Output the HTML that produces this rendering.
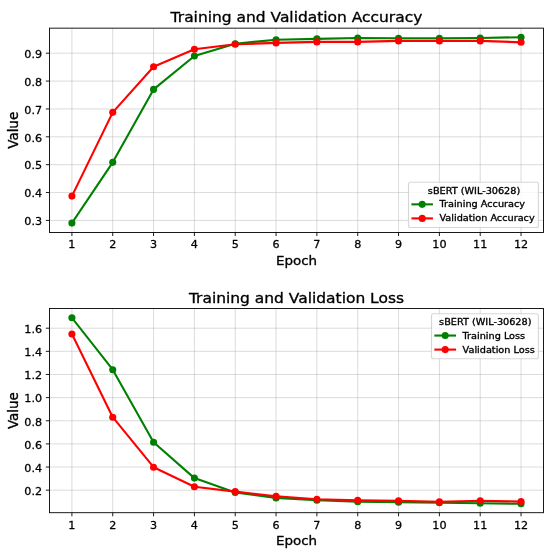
<!DOCTYPE html>
<html lang="en"><head><meta charset="utf-8"><title>Training and Validation curves</title>
<style>html,body{margin:0;padding:0;background:#fff}svg{display:block}</style></head>
<body>
<svg width="550" height="554" viewBox="0 0 550 554" font-family='"DejaVu Sans", "Liberation Sans", sans-serif' fill="#000">
<style>text{stroke:#000;stroke-width:0.35px;stroke-linejoin:round}</style>
<rect width="550" height="554" fill="#fff"/>
<g stroke="#b0b0b0" stroke-opacity="0.5" stroke-width="0.9" fill="none">
<path d="M71.91 28.15 V232.45"/>
<path d="M112.74 28.15 V232.45"/>
<path d="M153.57 28.15 V232.45"/>
<path d="M194.40 28.15 V232.45"/>
<path d="M235.23 28.15 V232.45"/>
<path d="M276.06 28.15 V232.45"/>
<path d="M316.89 28.15 V232.45"/>
<path d="M357.72 28.15 V232.45"/>
<path d="M398.55 28.15 V232.45"/>
<path d="M439.38 28.15 V232.45"/>
<path d="M480.21 28.15 V232.45"/>
<path d="M521.04 28.15 V232.45"/>
<path d="M49.45 220.42 H543.5"/>
<path d="M49.45 192.55 H543.5"/>
<path d="M49.45 164.68 H543.5"/>
<path d="M49.45 136.81 H543.5"/>
<path d="M49.45 108.94 H543.5"/>
<path d="M49.45 81.07 H543.5"/>
<path d="M49.45 53.20 H543.5"/>
</g>
<polyline points="71.91,223.10 112.74,162.36 153.57,89.40 194.40,56.00 235.23,43.70 276.06,39.70 316.89,38.90 357.72,38.00 398.55,38.20 439.38,38.20 480.21,38.00 521.04,37.20" fill="none" stroke="#008000" stroke-width="2.1" stroke-linejoin="round" stroke-linecap="square"/>
<g fill="#008000">
<circle cx="71.91" cy="223.10" r="3.55"/>
<circle cx="112.74" cy="162.36" r="3.55"/>
<circle cx="153.57" cy="89.40" r="3.55"/>
<circle cx="194.40" cy="56.00" r="3.55"/>
<circle cx="235.23" cy="43.70" r="3.55"/>
<circle cx="276.06" cy="39.70" r="3.55"/>
<circle cx="316.89" cy="38.90" r="3.55"/>
<circle cx="357.72" cy="38.00" r="3.55"/>
<circle cx="398.55" cy="38.20" r="3.55"/>
<circle cx="439.38" cy="38.20" r="3.55"/>
<circle cx="480.21" cy="38.00" r="3.55"/>
<circle cx="521.04" cy="37.20" r="3.55"/>
</g>
<polyline points="71.91,196.10 112.74,112.36 153.57,66.70 194.40,49.30 235.23,44.30 276.06,42.90 316.89,41.90 357.72,41.90 398.55,40.90 439.38,40.90 480.21,40.90 521.04,42.30" fill="none" stroke="#ff0000" stroke-width="2.1" stroke-linejoin="round" stroke-linecap="square"/>
<g fill="#ff0000">
<circle cx="71.91" cy="196.10" r="3.55"/>
<circle cx="112.74" cy="112.36" r="3.55"/>
<circle cx="153.57" cy="66.70" r="3.55"/>
<circle cx="194.40" cy="49.30" r="3.55"/>
<circle cx="235.23" cy="44.30" r="3.55"/>
<circle cx="276.06" cy="42.90" r="3.55"/>
<circle cx="316.89" cy="41.90" r="3.55"/>
<circle cx="357.72" cy="41.90" r="3.55"/>
<circle cx="398.55" cy="40.90" r="3.55"/>
<circle cx="439.38" cy="40.90" r="3.55"/>
<circle cx="480.21" cy="40.90" r="3.55"/>
<circle cx="521.04" cy="42.30" r="3.55"/>
</g>
<g stroke="#000" stroke-width="0.9" fill="none">
<path d="M71.91 232.45 v3.6"/>
<path d="M112.74 232.45 v3.6"/>
<path d="M153.57 232.45 v3.6"/>
<path d="M194.40 232.45 v3.6"/>
<path d="M235.23 232.45 v3.6"/>
<path d="M276.06 232.45 v3.6"/>
<path d="M316.89 232.45 v3.6"/>
<path d="M357.72 232.45 v3.6"/>
<path d="M398.55 232.45 v3.6"/>
<path d="M439.38 232.45 v3.6"/>
<path d="M480.21 232.45 v3.6"/>
<path d="M521.04 232.45 v3.6"/>
<path d="M49.45 220.42 h-3.6"/>
<path d="M49.45 192.55 h-3.6"/>
<path d="M49.45 164.68 h-3.6"/>
<path d="M49.45 136.81 h-3.6"/>
<path d="M49.45 108.94 h-3.6"/>
<path d="M49.45 81.07 h-3.6"/>
<path d="M49.45 53.20 h-3.6"/>
<rect x="49.45" y="28.15" width="494.05" height="204.30" stroke-linejoin="miter"/>
</g>
<text transform="translate(71.91 248.45) scale(1 0.98)" font-size="11.2" text-anchor="middle" style="stroke-width:0.28px">1</text>
<text transform="translate(112.74 248.45) scale(1 0.98)" font-size="11.2" text-anchor="middle" style="stroke-width:0.28px">2</text>
<text transform="translate(153.57 248.45) scale(1 0.98)" font-size="11.2" text-anchor="middle" style="stroke-width:0.28px">3</text>
<text transform="translate(194.40 248.45) scale(1 0.98)" font-size="11.2" text-anchor="middle" style="stroke-width:0.28px">4</text>
<text transform="translate(235.23 248.45) scale(1 0.98)" font-size="11.2" text-anchor="middle" style="stroke-width:0.28px">5</text>
<text transform="translate(276.06 248.45) scale(1 0.98)" font-size="11.2" text-anchor="middle" style="stroke-width:0.28px">6</text>
<text transform="translate(316.89 248.45) scale(1 0.98)" font-size="11.2" text-anchor="middle" style="stroke-width:0.28px">7</text>
<text transform="translate(357.72 248.45) scale(1 0.98)" font-size="11.2" text-anchor="middle" style="stroke-width:0.28px">8</text>
<text transform="translate(398.55 248.45) scale(1 0.98)" font-size="11.2" text-anchor="middle" style="stroke-width:0.28px">9</text>
<text transform="translate(439.38 248.45) scale(1 0.98)" font-size="11.2" text-anchor="middle" style="stroke-width:0.28px">10</text>
<text transform="translate(480.21 248.45) scale(1 0.98)" font-size="11.2" text-anchor="middle" style="stroke-width:0.28px">11</text>
<text transform="translate(521.04 248.45) scale(1 0.98)" font-size="11.2" text-anchor="middle" style="stroke-width:0.28px">12</text>
<text transform="translate(42.15 225.22) scale(1 0.98)" font-size="11.2" text-anchor="end" style="stroke-width:0.28px">0.3</text>
<text transform="translate(42.15 197.35) scale(1 0.98)" font-size="11.2" text-anchor="end" style="stroke-width:0.28px">0.4</text>
<text transform="translate(42.15 169.48) scale(1 0.98)" font-size="11.2" text-anchor="end" style="stroke-width:0.28px">0.5</text>
<text transform="translate(42.15 141.61) scale(1 0.98)" font-size="11.2" text-anchor="end" style="stroke-width:0.28px">0.6</text>
<text transform="translate(42.15 113.74) scale(1 0.98)" font-size="11.2" text-anchor="end" style="stroke-width:0.28px">0.7</text>
<text transform="translate(42.15 85.87) scale(1 0.98)" font-size="11.2" text-anchor="end" style="stroke-width:0.28px">0.8</text>
<text transform="translate(42.15 58.00) scale(1 0.98)" font-size="11.2" text-anchor="end" style="stroke-width:0.28px">0.9</text>
<text transform="translate(296.48 264.55) scale(1 0.92)" font-size="13.45" text-anchor="middle">Epoch</text>
<text transform="translate(17.50 130.30) rotate(-90)" font-size="13.45" text-anchor="middle">Value</text>
<text transform="translate(296.48 22.25) scale(1 0.95)" font-size="15.48" text-anchor="middle">Training and Validation Accuracy</text>
<rect x="408.5" y="182.2" width="129.90" height="45.30" rx="2" ry="2" fill="#fff" fill-opacity="0.8" stroke="#ccc" stroke-opacity="0.8" stroke-width="1.1"/>
<text transform="translate(474.05 193.50) scale(1 0.87)" font-size="9.7" text-anchor="middle">sBERT (WIL-30628)</text>
<path d="M412.5 204.35 H431.9" stroke="#008000" stroke-width="2.1" stroke-linecap="square" fill="none"/>
<circle cx="422.20" cy="204.35" r="3.55" fill="#008000"/>
<text transform="translate(439.50 207.35) scale(1 0.87)" font-size="9.7">Training Accuracy</text>
<path d="M412.5 218.40 H431.9" stroke="#ff0000" stroke-width="2.1" stroke-linecap="square" fill="none"/>
<circle cx="422.20" cy="218.40" r="3.55" fill="#ff0000"/>
<text transform="translate(439.50 221.40) scale(1 0.87)" font-size="9.7">Validation Accuracy</text>
<g stroke="#b0b0b0" stroke-opacity="0.5" stroke-width="0.9" fill="none">
<path d="M71.91 308.5 V512.7"/>
<path d="M112.74 308.5 V512.7"/>
<path d="M153.57 308.5 V512.7"/>
<path d="M194.40 308.5 V512.7"/>
<path d="M235.23 308.5 V512.7"/>
<path d="M276.06 308.5 V512.7"/>
<path d="M316.89 308.5 V512.7"/>
<path d="M357.72 308.5 V512.7"/>
<path d="M398.55 308.5 V512.7"/>
<path d="M439.38 308.5 V512.7"/>
<path d="M480.21 308.5 V512.7"/>
<path d="M521.04 308.5 V512.7"/>
<path d="M49.45 490.18 H543.5"/>
<path d="M49.45 467.04 H543.5"/>
<path d="M49.45 443.90 H543.5"/>
<path d="M49.45 420.76 H543.5"/>
<path d="M49.45 397.62 H543.5"/>
<path d="M49.45 374.48 H543.5"/>
<path d="M49.45 351.34 H543.5"/>
<path d="M49.45 328.20 H543.5"/>
</g>
<polyline points="71.91,317.80 112.74,369.70 153.57,442.20 194.40,478.10 235.23,492.40 276.06,497.90 316.89,500.30 357.72,501.70 398.55,502.30 439.38,502.70 480.21,503.30 521.04,503.80" fill="none" stroke="#008000" stroke-width="2.1" stroke-linejoin="round" stroke-linecap="square"/>
<g fill="#008000">
<circle cx="71.91" cy="317.80" r="3.55"/>
<circle cx="112.74" cy="369.70" r="3.55"/>
<circle cx="153.57" cy="442.20" r="3.55"/>
<circle cx="194.40" cy="478.10" r="3.55"/>
<circle cx="235.23" cy="492.40" r="3.55"/>
<circle cx="276.06" cy="497.90" r="3.55"/>
<circle cx="316.89" cy="500.30" r="3.55"/>
<circle cx="357.72" cy="501.70" r="3.55"/>
<circle cx="398.55" cy="502.30" r="3.55"/>
<circle cx="439.38" cy="502.70" r="3.55"/>
<circle cx="480.21" cy="503.30" r="3.55"/>
<circle cx="521.04" cy="503.80" r="3.55"/>
</g>
<polyline points="71.91,334.00 112.74,417.20 153.57,467.20 194.40,486.80 235.23,491.60 276.06,496.30 316.89,499.30 357.72,500.30 398.55,500.90 439.38,501.70 480.21,500.70 521.04,501.60" fill="none" stroke="#ff0000" stroke-width="2.1" stroke-linejoin="round" stroke-linecap="square"/>
<g fill="#ff0000">
<circle cx="71.91" cy="334.00" r="3.55"/>
<circle cx="112.74" cy="417.20" r="3.55"/>
<circle cx="153.57" cy="467.20" r="3.55"/>
<circle cx="194.40" cy="486.80" r="3.55"/>
<circle cx="235.23" cy="491.60" r="3.55"/>
<circle cx="276.06" cy="496.30" r="3.55"/>
<circle cx="316.89" cy="499.30" r="3.55"/>
<circle cx="357.72" cy="500.30" r="3.55"/>
<circle cx="398.55" cy="500.90" r="3.55"/>
<circle cx="439.38" cy="501.70" r="3.55"/>
<circle cx="480.21" cy="500.70" r="3.55"/>
<circle cx="521.04" cy="501.60" r="3.55"/>
</g>
<g stroke="#000" stroke-width="0.9" fill="none">
<path d="M71.91 512.7 v3.6"/>
<path d="M112.74 512.7 v3.6"/>
<path d="M153.57 512.7 v3.6"/>
<path d="M194.40 512.7 v3.6"/>
<path d="M235.23 512.7 v3.6"/>
<path d="M276.06 512.7 v3.6"/>
<path d="M316.89 512.7 v3.6"/>
<path d="M357.72 512.7 v3.6"/>
<path d="M398.55 512.7 v3.6"/>
<path d="M439.38 512.7 v3.6"/>
<path d="M480.21 512.7 v3.6"/>
<path d="M521.04 512.7 v3.6"/>
<path d="M49.45 490.18 h-3.6"/>
<path d="M49.45 467.04 h-3.6"/>
<path d="M49.45 443.90 h-3.6"/>
<path d="M49.45 420.76 h-3.6"/>
<path d="M49.45 397.62 h-3.6"/>
<path d="M49.45 374.48 h-3.6"/>
<path d="M49.45 351.34 h-3.6"/>
<path d="M49.45 328.20 h-3.6"/>
<rect x="49.45" y="308.5" width="494.05" height="204.20" stroke-linejoin="miter"/>
</g>
<text transform="translate(71.91 528.70) scale(1 0.98)" font-size="11.2" text-anchor="middle" style="stroke-width:0.28px">1</text>
<text transform="translate(112.74 528.70) scale(1 0.98)" font-size="11.2" text-anchor="middle" style="stroke-width:0.28px">2</text>
<text transform="translate(153.57 528.70) scale(1 0.98)" font-size="11.2" text-anchor="middle" style="stroke-width:0.28px">3</text>
<text transform="translate(194.40 528.70) scale(1 0.98)" font-size="11.2" text-anchor="middle" style="stroke-width:0.28px">4</text>
<text transform="translate(235.23 528.70) scale(1 0.98)" font-size="11.2" text-anchor="middle" style="stroke-width:0.28px">5</text>
<text transform="translate(276.06 528.70) scale(1 0.98)" font-size="11.2" text-anchor="middle" style="stroke-width:0.28px">6</text>
<text transform="translate(316.89 528.70) scale(1 0.98)" font-size="11.2" text-anchor="middle" style="stroke-width:0.28px">7</text>
<text transform="translate(357.72 528.70) scale(1 0.98)" font-size="11.2" text-anchor="middle" style="stroke-width:0.28px">8</text>
<text transform="translate(398.55 528.70) scale(1 0.98)" font-size="11.2" text-anchor="middle" style="stroke-width:0.28px">9</text>
<text transform="translate(439.38 528.70) scale(1 0.98)" font-size="11.2" text-anchor="middle" style="stroke-width:0.28px">10</text>
<text transform="translate(480.21 528.70) scale(1 0.98)" font-size="11.2" text-anchor="middle" style="stroke-width:0.28px">11</text>
<text transform="translate(521.04 528.70) scale(1 0.98)" font-size="11.2" text-anchor="middle" style="stroke-width:0.28px">12</text>
<text transform="translate(42.15 494.98) scale(1 0.98)" font-size="11.2" text-anchor="end" style="stroke-width:0.28px">0.2</text>
<text transform="translate(42.15 471.84) scale(1 0.98)" font-size="11.2" text-anchor="end" style="stroke-width:0.28px">0.4</text>
<text transform="translate(42.15 448.70) scale(1 0.98)" font-size="11.2" text-anchor="end" style="stroke-width:0.28px">0.6</text>
<text transform="translate(42.15 425.56) scale(1 0.98)" font-size="11.2" text-anchor="end" style="stroke-width:0.28px">0.8</text>
<text transform="translate(42.15 402.42) scale(1 0.98)" font-size="11.2" text-anchor="end" style="stroke-width:0.28px">1.0</text>
<text transform="translate(42.15 379.28) scale(1 0.98)" font-size="11.2" text-anchor="end" style="stroke-width:0.28px">1.2</text>
<text transform="translate(42.15 356.14) scale(1 0.98)" font-size="11.2" text-anchor="end" style="stroke-width:0.28px">1.4</text>
<text transform="translate(42.15 333.00) scale(1 0.98)" font-size="11.2" text-anchor="end" style="stroke-width:0.28px">1.6</text>
<text transform="translate(296.48 544.80) scale(1 0.92)" font-size="13.45" text-anchor="middle">Epoch</text>
<text transform="translate(17.50 410.60) rotate(-90)" font-size="13.45" text-anchor="middle">Value</text>
<text transform="translate(296.48 302.60) scale(1 0.95)" font-size="15.48" text-anchor="middle">Training and Validation Loss</text>
<rect x="431.5" y="313.8" width="106.90" height="44.90" rx="2" ry="2" fill="#fff" fill-opacity="0.8" stroke="#ccc" stroke-opacity="0.8" stroke-width="1.1"/>
<text transform="translate(485.30 324.70) scale(1 0.87)" font-size="9.7" text-anchor="middle">sBERT (WIL-30628)</text>
<path d="M435.4 335.55 H455.0" stroke="#008000" stroke-width="2.1" stroke-linecap="square" fill="none"/>
<circle cx="445.20" cy="335.55" r="3.55" fill="#008000"/>
<text transform="translate(462.60 338.55) scale(1 0.87)" font-size="9.7">Training Loss</text>
<path d="M435.4 349.60 H455.0" stroke="#ff0000" stroke-width="2.1" stroke-linecap="square" fill="none"/>
<circle cx="445.20" cy="349.60" r="3.55" fill="#ff0000"/>
<text transform="translate(462.60 352.60) scale(1 0.87)" font-size="9.7">Validation Loss</text>
</svg>
</body></html>
